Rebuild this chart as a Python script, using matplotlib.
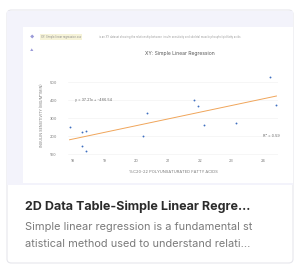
import matplotlib
matplotlib.use("Agg")
import matplotlib.pyplot as plt
from matplotlib.patches import FancyBboxPatch, Rectangle

plt.rcParams['font.family'] = ['Inter', 'DejaVu Sans']

# data
pufa = [17.89, 18.29, 18.40, 18.29, 18.40, 20.21, 20.32, 21.82, 21.93, 22.12, 23.13, 24.23, 24.42]
insulin = [251, 220, 229, 146, 117, 200, 329, 399, 367, 259, 270, 528, 371]
slope, intercept = 37.21, -486.54
r2 = 0.59
xticks = [18, 19, 20, 21, 22, 23, 24]
yticks = [100, 200, 300, 400, 500]

W, H = 302, 266
fig = plt.figure(figsize=(W / 100, H / 100), dpi=100)
fig.patch.set_facecolor('white')

def fx(px):
    return px / W

def fy(py):
    return 1 - py / H

# card + thumbnail background (kept behind the axes)
card = FancyBboxPatch((fx(7), fy(263)), fx(286), (263 - 10) / H,
                      boxstyle="round,pad=0,rounding_size=0.015",
                      transform=fig.transFigure, facecolor='white',
                      edgecolor='#e6e6ec', linewidth=0.8, zorder=-10)
fig.patches.append(card)
fig.patches.append(Rectangle((fx(7.5), fy(185)), fx(285), (185 - 11) / H,
                             transform=fig.transFigure, facecolor='#f3f3fb',
                             edgecolor='none', zorder=-9))
fig.patches.append(Rectangle((fx(23), fy(183)), fx(270), (183 - 27) / H,
                             transform=fig.transFigure, facecolor='white',
                             edgecolor='none', zorder=-8))

# tiny header of the thumbnail
fig.text(fx(32), fy(37), '\u25c6', fontsize=3, color='#9a9ad8', ha='center', va='center')
fig.text(fx(32), fy(50), '\u25b2', fontsize=2.5, color='#9a9ad8', ha='center', va='center')
fig.text(fx(41), fy(37), 'XY: Simple linear regression.csv',
         fontsize=1.9, color='#888888', va='center',
         bbox=dict(facecolor='#f6f3d8', edgecolor='none', pad=0.4))
fig.text(fx(99), fy(37), 'is an XY dataset showing the relationship between insulin sensitivity and skeletal muscle phospholipid fatty acids.',
         fontsize=1.9, color='#999999', va='center')
fig.text(fx(180), fy(53), 'XY: Simple Linear Regression', fontsize=3.6,
         color='#555555', ha='center', va='center')

# chart
ax = fig.add_axes([fx(68), fy(155.8), fx(278 - 68), (155.8 - 74.8) / H])
ax.set_facecolor('none')
ax.set_xlim(17.84, 24.47)
ax.set_ylim(90, 540)
ax.scatter(pufa, insulin, s=1.8, color='#3f6fc0', zorder=3, linewidths=0)
xs = [min(pufa), max(pufa)]
ax.plot(xs, [slope * x + intercept for x in xs], color='#f0a55a', linewidth=0.7, zorder=2)
ax.set_xticks(xticks)
ax.set_yticks(yticks)
ax.tick_params(length=0, labelsize=2.8, labelcolor='#777777')
ax.tick_params(axis='x', pad=2)
ax.tick_params(axis='y', pad=8)
ax.grid(axis='y', color='#f0f0f0', linewidth=0.4)
for s in ax.spines.values():
    s.set_visible(False)
ax.set_xlabel('%C20-22 POLYUNSATURATED FATTY ACIDS', fontsize=2.9, color='#777777', labelpad=5)
ax.set_ylabel('INSULIN SENSITIVITY (MG/M\u00b2/MIN)', fontsize=2.7, color='#777777', labelpad=4)
ax.text(18.05, 400, 'y = 37.21x + -486.54', fontsize=2.7, color='#666666', va='center')
ax.text(24.0, 200, 'R\u00b2 = 0.59', fontsize=2.7, color='#666666', va='center')

# card caption
fig.text(fx(25), fy(207), '2D Data Table-Simple Linear Regre...', fontsize=9,
         fontweight='bold', color='#2b2b2b', va='center')
fig.text(fx(25), fy(227), 'Simple linear regression is a fundamental st', fontsize=7.9,
         color='#7a7a7a', va='center')
fig.text(fx(25), fy(244), 'atistical method used to understand relati...', fontsize=7.9,
         color='#7a7a7a', va='center')

fig.savefig('out.png', dpi=100)
